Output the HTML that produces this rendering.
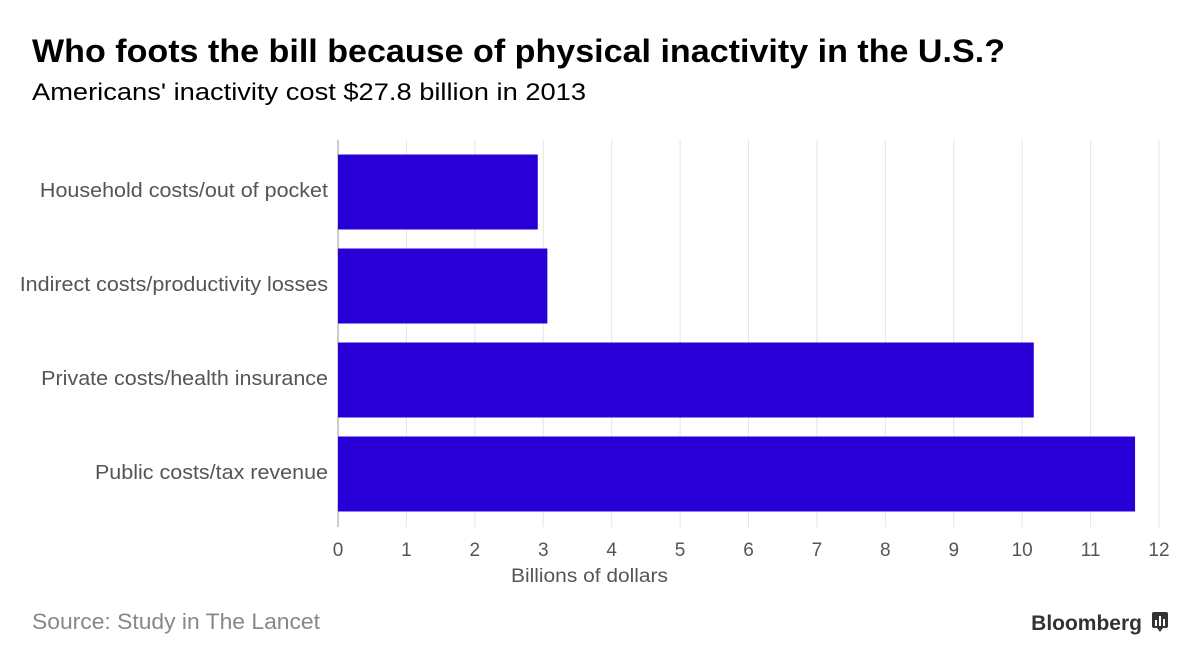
<!DOCTYPE html>
<html><head><meta charset="utf-8"><style>
body{margin:0;background:#fff;font-family:"Liberation Sans",sans-serif;}
svg text{font-family:"Liberation Sans",sans-serif;}
</style></head><body>
<svg width="1200" height="666" viewBox="0 0 1200 666">
<text x="32" y="62" font-size="32" font-weight="bold" fill="#000" textLength="973" lengthAdjust="spacingAndGlyphs">Who foots the bill because of physical inactivity in the U.S.?</text>
<text x="32" y="100" font-size="24" fill="#000" textLength="554" lengthAdjust="spacingAndGlyphs">Americans' inactivity cost $27.8 billion in 2013</text>
<g id="grid"></g>
<g id="bars"></g>
<g id="labels"></g>
<g id="ticks"></g>
<text x="511" y="582" font-size="19" fill="#555" textLength="157" lengthAdjust="spacingAndGlyphs">Billions of dollars</text>
<text x="32" y="629" font-size="22" fill="#888" textLength="288" lengthAdjust="spacingAndGlyphs">Source: Study in The Lancet</text>
<text x="1142" y="630" font-size="21" font-weight="bold" fill="#333" text-anchor="end">Bloomberg</text>
<g>
<rect x="1152" y="612" width="16" height="16" rx="2" fill="#333"/>
<path d="M1157 628 L1160 632 L1163 628 Z" fill="#333"/>
<rect x="1155" y="620" width="2" height="6" fill="#fff"/><rect x="1159" y="616" width="2" height="10" fill="#fff"/><rect x="1163" y="619" width="2" height="7" fill="#fff"/>
</g>
</svg>
<script>
const categories=["Household costs/out of pocket","Indirect costs/productivity losses","Private costs/health insurance","Public costs/tax revenue"];
const values=[2.92,3.06,10.17,11.65];
const tickValues=[0,1,2,3,4,5,6,7,8,9,10,11,12];
const NS="http://www.w3.org/2000/svg";
const x0=338,x1=1159,xmax=12;
const xs=v=>x0+(x1-x0)*v/xmax;
const bandTop=142,band=94,barH=75;
const ys=i=>bandTop+i*band+(band-barH)/2+3;
function mk(tag,attrs,parent){const e=document.createElementNS(NS,tag);for(const k in attrs)e.setAttribute(k,attrs[k]);document.getElementById(parent).appendChild(e);return e;}
tickValues.forEach(t=>{
 const g=mk('line',{x1:xs(t),x2:xs(t),y1:140,y2:527,stroke:t===0?'#999':'#e6e6e6','stroke-width':1},'grid');
 
 
 const l=mk('text',{x:xs(t),y:556,'font-size':19,fill:'#555','text-anchor':'middle'},'ticks');
 l.textContent=t;
 
 
});
categories.forEach((c,i)=>{
 const r=mk('rect',{x:xs(0),y:ys(i),width:xs(values[i])-xs(0),height:barH,fill:'#2800d7'},'bars');
 
 
 const t=mk('text',{x:328,y:ys(i)+barH/2+5,'font-size':20,fill:'#555','text-anchor':'end'},'labels');
 t.textContent=c;
 
 
 const w=t.getComputedTextLength();
 t.setAttribute('textLength',w*1.075);
 t.setAttribute('lengthAdjust','spacingAndGlyphs');
});
</script>
</body></html>
